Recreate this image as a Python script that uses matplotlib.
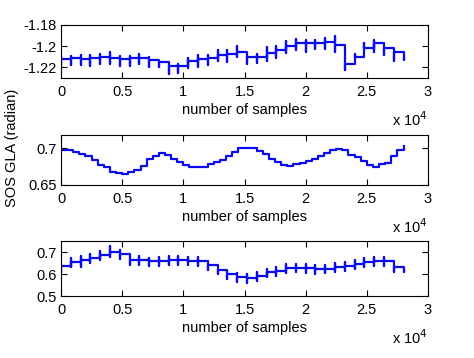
import numpy as np
import matplotlib
matplotlib.use('Agg')
import matplotlib.pyplot as plt

plt.rcParams['font.family'] = ['Liberation Sans', 'DejaVu Sans']
plt.rcParams['font.size'] = 10

# top panel: step levels every 800 samples, with spike extents (x 1e-3)
top_step = 800
top_levels = [-1.212, -1.211, -1.212, -1.211, -1.210, -1.211, -1.212, -1.211, -1.211,
              -1.213, -1.215, -1.219, -1.219, -1.214, -1.212, -1.211, -1.208, -1.207,
              -1.205, -1.210, -1.210, -1.206, -1.204, -1.200, -1.197, -1.197, -1.197,
              -1.196, -1.199, -1.217, -1.210, -1.202, -1.197, -1.202, -1.205, -1.211]
top_up = [3, 2, 4, 3, 3, 6, 3, 2, 4, 3, 2, 3, 2, 3, 4, 3, 4, 3, 5, 3, 3, 5, 4, 5, 4, 3,
          3, 4, 9, 3, 3, 5, 3, 4, 3, 1]
top_down = [8, 7, 6, 8, 7, 6, 7, 8, 6, 7, 5, 7, 6, 7, 8, 7, 6, 8, 5, 7, 6, 8, 7, 6, 7, 8,
            6, 7, 6, 5, 6, 7, 8, 6, 9, 2]

# middle panel: step levels every 500 samples
mid_step = 500
mid_levels = [0.698, 0.697, 0.695, 0.692, 0.689, 0.684, 0.677, 0.675, 0.668, 0.666,
              0.665, 0.668, 0.671, 0.676, 0.685, 0.690, 0.693, 0.691, 0.685, 0.681,
              0.677, 0.675, 0.674, 0.675, 0.678, 0.681, 0.684, 0.689, 0.695, 0.700,
              0.701, 0.701, 0.696, 0.692, 0.686, 0.681, 0.677, 0.676, 0.678, 0.680,
              0.682, 0.686, 0.689, 0.693, 0.697, 0.699, 0.697, 0.691, 0.688, 0.682,
              0.677, 0.675, 0.678, 0.680, 0.690, 0.697, 0.703]

# bottom panel: step levels every 800 samples, spike extents (x 1e-3)
bot_step = 800
bot_levels = [0.635, 0.655, 0.662, 0.674, 0.685, 0.700, 0.692, 0.665, 0.665, 0.657,
              0.659, 0.662, 0.662, 0.661, 0.659, 0.640, 0.620, 0.600, 0.586, 0.580,
              0.590, 0.607, 0.615, 0.628, 0.629, 0.628, 0.624, 0.625, 0.630, 0.636,
              0.644, 0.655, 0.660, 0.658, 0.632, 0.620]
bot_up = [12, 18, 18, 18, 18, 28, 18, 18, 15, 18, 18, 18, 18, 18, 18, 18, 18, 15, 18,
          18, 18, 18, 18, 18, 18, 18, 18, 18, 18, 18, 18, 18, 18, 18, 18, 8]
bot_down = [30, 22, 28, 22, 22, 22, 22, 22, 22, 22, 22, 22, 22, 22, 22, 22, 22, 22, 22,
            22, 22, 22, 22, 22, 22, 22, 22, 22, 22, 22, 22, 22, 22, 22, 22, 10]


def step_path(step, levels, up=None, down=None):
    xs, ys = [], []
    n = len(levels)
    for i, v in enumerate(levels):
        x = i * step
        if up is not None:
            xs += [x, x, x]
            ys += [v + up[i] / 1000.0, v - down[i] / 1000.0, v]
        else:
            xs.append(x)
            ys.append(v)
        if i < n - 1:
            xs.append(x + step)
            ys.append(v)
    return xs, ys


fig = plt.figure(figsize=(4.74, 3.58), dpi=100)
W, H = 474.0, 358.0
left, right = 61 / W, 428 / W
boxes = [(25, 78), (135, 185), (241, 296)]
axes = []
for t, b in boxes:
    axes.append(fig.add_axes([left, 1 - b / H, right - left, (b - t) / H]))

series = [step_path(top_step, top_levels, top_up, top_down),
          step_path(mid_step, mid_levels),
          step_path(bot_step, bot_levels, bot_up, bot_down)]
ylims = [(-1.23, -1.18), (0.65, 0.718), (0.5, 0.75)]
yticks = [[-1.22, -1.2, -1.18], [0.65, 0.7], [0.5, 0.6, 0.7]]
yticklabels = [['-1.22', '-1.2', '-1.18'], ['0.65', '0.7'], ['0.5', '0.6', '0.7']]
xticks = [0, 5000, 10000, 15000, 20000, 25000, 30000]
xticklabels = ['0', '0.5', '1', '1.5', '2', '2.5', '3']

for ax, (xs, ys), yl, yt, ytl in zip(axes, series, ylims, yticks, yticklabels):
    ax.plot(xs, ys, color='#0a0af0', linewidth=1.6)
    ax.set_xlim(0, 30000)
    ax.set_ylim(*yl)
    ax.set_yticks(yt)
    ax.set_yticklabels(ytl)
    ax.set_xticks(xticks)
    ax.set_xticklabels(xticklabels)
    ax.tick_params(direction='in', top=True, right=True, length=4, width=0.8,
                   labelsize=10.5)
    ax.tick_params(axis='x', pad=5)
    ax.tick_params(axis='y', pad=3)
    for s in ax.spines.values():
        s.set_linewidth(0.8)
    ax.set_xlabel('number of samples', fontsize=10.5, labelpad=3)
    ax.annotate(r'x 10$^4$', xy=(1.0, 0), xycoords='axes fraction',
                xytext=(0, -30), textcoords='offset points',
                ha='right', va='center', fontsize=10.5)

fig.text(12 / W, 1 - 148 / H, 'SOS GLA (radian)', rotation=90,
         ha='center', va='center', fontsize=10.5)

fig.savefig('out.png', dpi=100)
